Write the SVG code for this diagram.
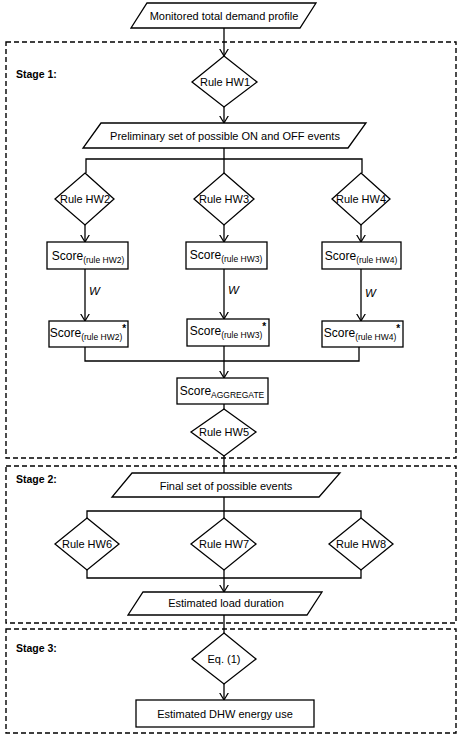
<svg xmlns="http://www.w3.org/2000/svg" width="462" height="738" viewBox="0 0 462 738">
<style>
.n{fill:#fff;stroke:#000;stroke-width:1.3}
.st{fill:none;stroke:#000;stroke-width:1.4;stroke-dasharray:5,3}
.c{fill:none;stroke:#000;stroke-width:1.3}
text{font-family:"Liberation Sans",Arial,sans-serif;font-size:11px;fill:#000}
.t{text-anchor:middle}
.sc{font-size:12px}
.sub{font-size:8.5px}
.ast{font-size:10px;font-weight:bold}
.b{font-weight:bold;font-size:10.5px}
.w{font-style:italic;font-size:11.5px}
</style>
<defs>
<marker id="a" viewBox="0 0 8 10" refX="7.5" refY="5" markerWidth="8" markerHeight="10" markerUnits="userSpaceOnUse" orient="auto">
<path d="M0,0.5 L7.5,5 L0,9.5" fill="none" stroke="#000" stroke-width="1.2"/>
</marker>
</defs>
<rect width="462" height="738" fill="#fff"/>
<g id="stages">
<rect class="st" x="6" y="42" width="450" height="416"/>
<rect class="st" x="6" y="466" width="450" height="157"/>
<rect class="st" x="6" y="629" width="450" height="104"/>
<text class="b" x="16" y="78">Stage 1:</text>
<text class="b" x="16" y="483">Stage 2:</text>
<text class="b" x="16" y="652">Stage 3:</text>
</g>
<g id="connectors">
<path class="c" d="M224,28 V56" marker-end="url(#a)"/>
<path class="c" d="M224,107 V123" marker-end="url(#a)"/>
<path class="c" d="M224,148 V159 M86,173 V159 H362 V173 M224,159 V173"/>
<path class="c" d="M85,225 V242" marker-end="url(#a)"/>
<path class="c" d="M224,225 V242" marker-end="url(#a)"/>
<path class="c" d="M361,225 V242" marker-end="url(#a)"/>
<path class="c" d="M85,269 V321" marker-end="url(#a)"/>
<path class="c" d="M224,269 V319" marker-end="url(#a)"/>
<path class="c" d="M361,269 V321" marker-end="url(#a)"/>
<path class="c" d="M85,347 V361 H359 V347"/>
<path class="c" d="M224,346 V378" marker-end="url(#a)"/>
<path class="c" d="M224,404 V409"/>
<path class="c" d="M224,456 V473"/>
<path class="c" d="M224,497 V511 M87,518 V511 H361 V518 M224,511 V518"/>
<path class="c" d="M87,570 V578 H361 V570"/>
<path class="c" d="M224,570 V592" marker-end="url(#a)"/>
<path class="c" d="M224,615 V633"/>
<path class="c" d="M224,684 V700" marker-end="url(#a)"/>
<text class="w" x="89" y="295">W</text>
<text class="w" x="228" y="294">W</text>
<text class="w" x="365" y="297">W</text>
</g>
<g id="n-monitored">
<polygon class="n" points="147,3 316,3 300,28 131,28"/>
<text class="t" x="224" y="20">Monitored total demand profile</text>
</g>
<g id="n-hw1">
<polygon class="n" points="224,56 257,82 224,107 192,82"/>
<text class="t" x="225" y="86" font-size="10.5">Rule HW1</text>
</g>
<g id="n-preliminary">
<polygon class="n" points="101,123 366,123 348,148 83,148"/>
<text class="t" x="225" y="140">Preliminary set of possible ON and OFF events</text>
</g>
<g id="n-hw2">
<polygon class="n" points="85,173 114,199 85,225 55,199"/>
<text class="t" x="85" y="203" font-size="10.5">Rule HW2</text>
</g>
<g id="n-hw3">
<polygon class="n" points="224,173 254,199 224,225 194,199"/>
<text class="t" x="224" y="203" font-size="10.5">Rule HW3</text>
</g>
<g id="n-hw4">
<polygon class="n" points="361,173 390,199 361,225 332,199"/>
<text class="t" x="361" y="203" font-size="10.5">Rule HW4</text>
</g>
<g id="n-score2">
<rect class="n" x="47" y="242" width="81" height="27"/>
<text class="t" x="88" y="260"><tspan class="sc">Score</tspan><tspan class="sub" dy="3">(rule HW2)</tspan></text>
</g>
<g id="n-score3">
<rect class="n" x="186" y="242" width="81" height="27"/>
<text class="t" x="226" y="259"><tspan class="sc">Score</tspan><tspan class="sub" dy="3">(rule HW3)</tspan></text>
</g>
<g id="n-score4">
<rect class="n" x="322" y="242" width="79" height="27"/>
<text class="t" x="361" y="260"><tspan class="sc">Score</tspan><tspan class="sub" dy="3">(rule HW4)</tspan></text>
</g>
<g id="n-score2s">
<rect class="n" x="49" y="321" width="79" height="26"/>
<text class="t" x="88" y="337"><tspan class="sc">Score</tspan><tspan class="sub" dy="3">(rule HW2)</tspan><tspan class="ast" dy="-8">*</tspan></text>
</g>
<g id="n-score3s">
<rect class="n" x="187" y="319" width="82" height="27"/>
<text class="t" x="228" y="335"><tspan class="sc">Score</tspan><tspan class="sub" dy="3">(rule HW3)</tspan><tspan class="ast" dy="-8">*</tspan></text>
</g>
<g id="n-score4s">
<rect class="n" x="322" y="321" width="81" height="26"/>
<text class="t" x="362" y="337"><tspan class="sc">Score</tspan><tspan class="sub" dy="3">(rule HW4)</tspan><tspan class="ast" dy="-8">*</tspan></text>
</g>
<g id="n-aggregate">
<rect class="n" x="177" y="378" width="91" height="26"/>
<text class="t" x="222" y="395"><tspan class="sc">Score</tspan><tspan class="sub" dy="3">AGGREGATE</tspan></text>
</g>
<g id="n-hw5">
<polygon class="n" points="224,409 256,432 224,456 191,432"/>
<text class="t" x="224" y="436" font-size="10.5">Rule HW5</text>
</g>
<g id="n-final">
<polygon class="n" points="132,473 340,473 319,497 112,497"/>
<text class="t" x="226" y="490">Final set of possible events</text>
</g>
<g id="n-hw6">
<polygon class="n" points="87,518 119,544 87,570 55,544"/>
<text class="t" x="87" y="548" font-size="10.5">Rule HW6</text>
</g>
<g id="n-hw7">
<polygon class="n" points="224,518 256,544 224,570 191,544"/>
<text class="t" x="224" y="548" font-size="10.5">Rule HW7</text>
</g>
<g id="n-hw8">
<polygon class="n" points="361,518 393,544 361,570 329,544"/>
<text class="t" x="361" y="548" font-size="10.5">Rule HW8</text>
</g>
<g id="n-load">
<polygon class="n" points="143,592 322,592 307,615 128,615"/>
<text class="t" x="226" y="607">Estimated load duration</text>
</g>
<g id="n-eq1">
<polygon class="n" points="224,633 256,659 224,684 192,659"/>
<text class="t" x="224" y="663" font-size="10.5">Eq. (1)</text>
</g>
<g id="n-dhw">
<rect class="n" x="136" y="700" width="178" height="27"/>
<text class="t" x="225" y="718">Estimated DHW energy use</text>
</g>
</svg>
